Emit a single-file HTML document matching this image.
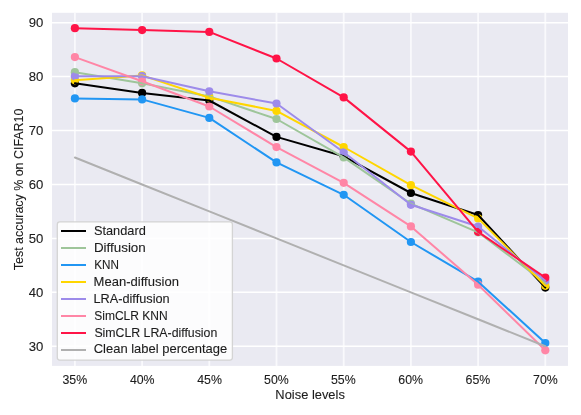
<!DOCTYPE html><html><head><meta charset="utf-8"><style>html,body{margin:0;padding:0;background:#fff;overflow:hidden;}svg{display:block;will-change:transform;}</style></head><body>
<svg width="581" height="415" viewBox="0 0 581 415">
<rect x="0" y="0" width="581" height="415" fill="#ffffff"/>
<rect x="52.0" y="12.8" width="516.0" height="353.1" fill="#eaeaf2"/>
<path d="M52.0 346.25H568.0M52.0 292.32H568.0M52.0 238.40H568.0M52.0 184.47H568.0M52.0 130.55H568.0M52.0 76.62H568.0M52.0 22.70H568.0" stroke="#ffffff" stroke-width="1.5" fill="none"/>
<path d="M74.90 12.8V365.9M142.10 12.8V365.9M209.30 12.8V365.9M276.50 12.8V365.9M343.70 12.8V365.9M410.90 12.8V365.9M478.10 12.8V365.9M545.30 12.8V365.9" stroke="#ffffff" stroke-opacity="0.72" stroke-width="1.8" fill="none"/>
<defs><clipPath id="c"><rect x="52.0" y="12.8" width="516.0" height="353.1"/></clipPath></defs>
<g clip-path="url(#c)">
<circle cx="74.90" cy="83.30" r="4.1" fill="#000000"/>
<circle cx="142.10" cy="92.90" r="4.1" fill="#000000"/>
<circle cx="209.30" cy="100.50" r="4.1" fill="#000000"/>
<circle cx="276.50" cy="136.90" r="4.1" fill="#000000"/>
<circle cx="343.70" cy="156.30" r="4.1" fill="#000000"/>
<circle cx="410.90" cy="193.00" r="4.1" fill="#000000"/>
<circle cx="478.10" cy="215.00" r="4.1" fill="#000000"/>
<circle cx="545.30" cy="287.60" r="4.1" fill="#000000"/>
<circle cx="74.90" cy="72.20" r="4.1" fill="#9ec59a"/>
<circle cx="142.10" cy="83.30" r="4.1" fill="#9ec59a"/>
<circle cx="209.30" cy="96.40" r="4.1" fill="#9ec59a"/>
<circle cx="276.50" cy="119.00" r="4.1" fill="#9ec59a"/>
<circle cx="343.70" cy="157.40" r="4.1" fill="#9ec59a"/>
<circle cx="410.90" cy="203.70" r="4.1" fill="#9ec59a"/>
<circle cx="478.10" cy="232.30" r="4.1" fill="#9ec59a"/>
<circle cx="545.30" cy="283.00" r="4.1" fill="#9ec59a"/>
<circle cx="74.90" cy="98.40" r="4.1" fill="#2196f3"/>
<circle cx="142.10" cy="99.40" r="4.1" fill="#2196f3"/>
<circle cx="209.30" cy="117.90" r="4.1" fill="#2196f3"/>
<circle cx="276.50" cy="162.40" r="4.1" fill="#2196f3"/>
<circle cx="343.70" cy="194.80" r="4.1" fill="#2196f3"/>
<circle cx="410.90" cy="242.00" r="4.1" fill="#2196f3"/>
<circle cx="478.10" cy="281.70" r="4.1" fill="#2196f3"/>
<circle cx="545.30" cy="343.00" r="4.1" fill="#2196f3"/>
<circle cx="74.90" cy="80.30" r="4.1" fill="#ffd600"/>
<circle cx="142.10" cy="75.40" r="4.1" fill="#ffd600"/>
<circle cx="209.30" cy="97.70" r="4.1" fill="#ffd600"/>
<circle cx="276.50" cy="110.90" r="4.1" fill="#ffd600"/>
<circle cx="343.70" cy="147.00" r="4.1" fill="#ffd600"/>
<circle cx="410.90" cy="185.20" r="4.1" fill="#ffd600"/>
<circle cx="478.10" cy="218.40" r="4.1" fill="#ffd600"/>
<circle cx="545.30" cy="285.80" r="4.1" fill="#ffd600"/>
<circle cx="74.90" cy="76.30" r="4.1" fill="#9d8bea"/>
<circle cx="142.10" cy="76.20" r="4.1" fill="#9d8bea"/>
<circle cx="209.30" cy="91.30" r="4.1" fill="#9d8bea"/>
<circle cx="276.50" cy="103.50" r="4.1" fill="#9d8bea"/>
<circle cx="343.70" cy="152.30" r="4.1" fill="#9d8bea"/>
<circle cx="410.90" cy="204.80" r="4.1" fill="#9d8bea"/>
<circle cx="478.10" cy="226.50" r="4.1" fill="#9d8bea"/>
<circle cx="545.30" cy="280.70" r="4.1" fill="#9d8bea"/>
<circle cx="74.90" cy="57.10" r="4.1" fill="#ff86a6"/>
<circle cx="142.10" cy="81.30" r="4.1" fill="#ff86a6"/>
<circle cx="209.30" cy="106.50" r="4.1" fill="#ff86a6"/>
<circle cx="276.50" cy="147.10" r="4.1" fill="#ff86a6"/>
<circle cx="343.70" cy="182.80" r="4.1" fill="#ff86a6"/>
<circle cx="410.90" cy="226.40" r="4.1" fill="#ff86a6"/>
<circle cx="478.10" cy="284.70" r="4.1" fill="#ff86a6"/>
<circle cx="545.30" cy="350.30" r="4.1" fill="#ff86a6"/>
<circle cx="74.90" cy="28.20" r="4.1" fill="#ff1447"/>
<circle cx="142.10" cy="30.10" r="4.1" fill="#ff1447"/>
<circle cx="209.30" cy="31.90" r="4.1" fill="#ff1447"/>
<circle cx="276.50" cy="58.50" r="4.1" fill="#ff1447"/>
<circle cx="343.70" cy="97.40" r="4.1" fill="#ff1447"/>
<circle cx="410.90" cy="151.60" r="4.1" fill="#ff1447"/>
<circle cx="478.10" cy="231.80" r="4.1" fill="#ff1447"/>
<circle cx="545.30" cy="277.70" r="4.1" fill="#ff1447"/>
<polyline points="74.90,83.30 142.10,92.90 209.30,100.50 276.50,136.90 343.70,156.30 410.90,193.00 478.10,215.00 545.30,287.60" fill="none" stroke="#000000" stroke-width="2.0" stroke-linejoin="round" stroke-linecap="round"/>
<polyline points="74.90,72.20 142.10,83.30 209.30,96.40 276.50,119.00 343.70,157.40 410.90,203.70 478.10,232.30 545.30,283.00" fill="none" stroke="#9ec59a" stroke-width="2.0" stroke-linejoin="round" stroke-linecap="round"/>
<polyline points="74.90,98.40 142.10,99.40 209.30,117.90 276.50,162.40 343.70,194.80 410.90,242.00 478.10,281.70 545.30,343.00" fill="none" stroke="#2196f3" stroke-width="2.0" stroke-linejoin="round" stroke-linecap="round"/>
<polyline points="74.90,80.30 142.10,75.40 209.30,97.70 276.50,110.90 343.70,147.00 410.90,185.20 478.10,218.40 545.30,285.80" fill="none" stroke="#ffd600" stroke-width="2.0" stroke-linejoin="round" stroke-linecap="round"/>
<polyline points="74.90,76.30 142.10,76.20 209.30,91.30 276.50,103.50 343.70,152.30 410.90,204.80 478.10,226.50 545.30,280.70" fill="none" stroke="#9d8bea" stroke-width="2.0" stroke-linejoin="round" stroke-linecap="round"/>
<polyline points="74.90,57.10 142.10,81.30 209.30,106.50 276.50,147.10 343.70,182.80 410.90,226.40 478.10,284.70 545.30,350.30" fill="none" stroke="#ff86a6" stroke-width="2.0" stroke-linejoin="round" stroke-linecap="round"/>
<polyline points="74.90,28.20 142.10,30.10 209.30,31.90 276.50,58.50 343.70,97.40 410.90,151.60 478.10,231.80 545.30,277.70" fill="none" stroke="#ff1447" stroke-width="2.0" stroke-linejoin="round" stroke-linecap="round"/>
<polyline points="74.90,157.51 142.10,184.47 209.30,211.44 276.50,238.40 343.70,265.36 410.90,292.32 478.10,319.29 545.30,346.25" fill="none" stroke="#b0b0b0" stroke-width="2.0" stroke-linejoin="round" stroke-linecap="round"/>
</g>
<rect x="57.3" y="221.9" width="175.1" height="138.2" rx="2.5" ry="2.5" fill="#ffffff" fill-opacity="0.85" stroke="#d4d4d4" stroke-width="1.3"/>
<line x1="61" x2="86" y1="231" y2="231" stroke="#000000" stroke-width="2.0"/>
<line x1="61" x2="86" y1="248" y2="248" stroke="#9ec59a" stroke-width="2.0"/>
<line x1="61" x2="86" y1="265" y2="265" stroke="#2196f3" stroke-width="2.0"/>
<line x1="61" x2="86" y1="282" y2="282" stroke="#ffd600" stroke-width="2.0"/>
<line x1="61" x2="86" y1="299" y2="299" stroke="#9d8bea" stroke-width="2.0"/>
<line x1="61" x2="86" y1="316" y2="316" stroke="#ff86a6" stroke-width="2.0"/>
<line x1="61" x2="86" y1="333" y2="333" stroke="#ff1447" stroke-width="2.0"/>
<line x1="61" x2="86" y1="350" y2="350" stroke="#b0b0b0" stroke-width="2.0"/>
<g font-family="'Liberation Sans', sans-serif" font-size="12.6" fill="#1c1c1c" stroke="#1c1c1c" stroke-width="0.1">
<text x="43.4" y="350.75" text-anchor="end" textLength="14.60" lengthAdjust="spacingAndGlyphs">30</text>
<text x="43.4" y="296.82" text-anchor="end" textLength="14.60" lengthAdjust="spacingAndGlyphs">40</text>
<text x="43.4" y="242.9" text-anchor="end" textLength="14.60" lengthAdjust="spacingAndGlyphs">50</text>
<text x="43.4" y="188.97" text-anchor="end" textLength="14.60" lengthAdjust="spacingAndGlyphs">60</text>
<text x="43.4" y="135.05" text-anchor="end" textLength="14.60" lengthAdjust="spacingAndGlyphs">70</text>
<text x="43.4" y="81.12" text-anchor="end" textLength="14.60" lengthAdjust="spacingAndGlyphs">80</text>
<text x="43.4" y="27.2" text-anchor="end" textLength="14.60" lengthAdjust="spacingAndGlyphs">90</text>
<text x="74.8" y="384" text-anchor="middle" textLength="24.70" lengthAdjust="spacingAndGlyphs">35%</text>
<text x="142.24" y="384" text-anchor="middle" textLength="24.70" lengthAdjust="spacingAndGlyphs">40%</text>
<text x="209.56" y="384" text-anchor="middle" textLength="24.70" lengthAdjust="spacingAndGlyphs">45%</text>
<text x="276.38" y="384" text-anchor="middle" textLength="24.70" lengthAdjust="spacingAndGlyphs">50%</text>
<text x="343.32" y="384" text-anchor="middle" textLength="24.70" lengthAdjust="spacingAndGlyphs">55%</text>
<text x="410.64" y="384" text-anchor="middle" textLength="24.70" lengthAdjust="spacingAndGlyphs">60%</text>
<text x="477.96" y="384" text-anchor="middle" textLength="24.70" lengthAdjust="spacingAndGlyphs">65%</text>
<text x="545.4" y="384" text-anchor="middle" textLength="24.70" lengthAdjust="spacingAndGlyphs">70%</text>
<text x="310.1" y="399" text-anchor="middle" textLength="69.50" lengthAdjust="spacingAndGlyphs">Noise levels</text>
<text transform="translate(22.7,189.4) rotate(-90)" x="0" y="0" text-anchor="middle" textLength="161.50" lengthAdjust="spacingAndGlyphs">Test accuracy % on CIFAR10</text>
<text x="93.9" y="235.4" text-anchor="start" textLength="51.90" lengthAdjust="spacingAndGlyphs">Standard</text>
<text x="93.9" y="252.25" text-anchor="start" textLength="51.90" lengthAdjust="spacingAndGlyphs">Diffusion</text>
<text x="94.3" y="269.1" text-anchor="start" textLength="24.70" lengthAdjust="spacingAndGlyphs">KNN</text>
<text x="93.6" y="285.95" text-anchor="start" textLength="85.30" lengthAdjust="spacingAndGlyphs">Mean-diffusion</text>
<text x="93.5" y="302.8" text-anchor="start" textLength="76.10" lengthAdjust="spacingAndGlyphs">LRA-diffusion</text>
<text x="94.2" y="319.65" text-anchor="start" textLength="73.50" lengthAdjust="spacingAndGlyphs">SimCLR KNN</text>
<text x="94.4" y="336.5" text-anchor="start" textLength="122.90" lengthAdjust="spacingAndGlyphs">SimCLR LRA-diffusion</text>
<text x="93.7" y="353.35" text-anchor="start" textLength="133.50" lengthAdjust="spacingAndGlyphs">Clean label percentage</text>
</g>
</svg></body></html>
